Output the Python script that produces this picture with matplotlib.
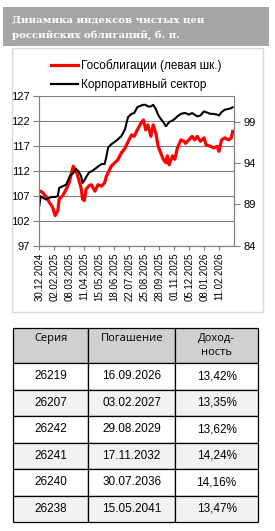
import numpy as np
import pandas as pd
import matplotlib
matplotlib.use('Agg')
import matplotlib.pyplot as plt
from matplotlib.patches import Rectangle
from matplotlib.lines import Line2D

plt.rcParams['font.family'] = ['Liberation Sans', 'DejaVu Sans']

# Индексы чистых цен (чтение с графика)
dates = ['2024-12-30', '2025-01-02', '2025-01-07', '2025-01-14', '2025-01-22', '2025-01-29',
         '2025-02-04', '2025-02-10', '2025-02-13', '2025-02-21', '2025-03-01', '2025-03-08',
         '2025-03-12', '2025-03-17', '2025-03-23', '2025-03-29', '2025-04-04', '2025-04-07',
         '2025-04-11', '2025-04-15', '2025-04-22', '2025-04-27', '2025-05-05', '2025-05-12',
         '2025-05-20', '2025-05-27', '2025-05-31', '2025-06-04', '2025-06-11', '2025-06-19',
         '2025-06-26', '2025-07-04', '2025-07-12', '2025-07-19', '2025-07-27', '2025-08-02',
         '2025-08-09', '2025-08-17', '2025-08-23', '2025-08-28', '2025-09-02', '2025-09-09',
         '2025-09-14', '2025-09-20', '2025-09-25', '2025-10-01', '2025-10-07', '2025-10-13',
         '2025-10-16', '2025-10-20', '2025-10-28', '2025-11-02', '2025-11-08', '2025-11-16',
         '2025-11-23', '2025-11-26', '2025-12-04', '2025-12-11', '2025-12-17', '2025-12-23',
         '2025-12-30', '2026-01-07', '2026-01-12', '2026-01-22', '2026-01-29', '2026-02-06',
         '2026-02-10', '2026-02-16', '2026-02-23', '2026-03-04', '2026-03-10', '2026-03-13']

gov = [107.8, 107.9, 107.6, 106.8, 105.6, 104.7,
       103.0, 104.0, 106.3, 107.0, 108.3, 109.7,
       111.3, 112.9, 112.1, 110.4, 108.4, 106.3,
       106.0, 108.3, 109.0, 109.2, 107.9, 109.2,
       108.9, 109.6, 110.9, 111.6, 112.9, 113.6,
       114.2, 115.6, 116.5, 117.8, 119.2, 118.9,
       120.2, 121.5, 122.2, 120.2, 121.2, 118.9,
       121.2, 119.6, 117.0, 115.6, 114.3, 113.6,
       115.0, 113.2, 115.0, 114.3, 116.6, 118.2,
       117.9, 117.5, 118.2, 118.9, 118.2, 118.9,
       117.9, 118.6, 117.2, 116.9, 116.6, 116.9,
       115.9, 118.2, 118.6, 118.2, 118.6, 119.9]

corp = [88.8, 90.0, 89.8, 89.6, 89.8, 89.9,
        89.9, 90.0, 91.0, 91.2, 91.4, 92.3,
        92.6, 92.8, 93.3, 93.0, 92.4, 91.6,
        91.9, 92.3, 92.9, 93.0, 93.3, 93.6,
        93.9, 93.9, 94.8, 95.9, 96.3, 96.6,
        96.9, 97.3, 98.1, 99.6, 100.0, 100.1,
        100.8, 101.0, 101.1, 101.1, 100.9, 100.9,
        101.1, 100.6, 99.9, 99.4, 99.0, 98.5,
        98.7, 99.0, 99.2, 99.4, 99.7, 100.0,
        100.1, 100.1, 99.9, 100.1, 99.9, 99.7,
        99.8, 100.3, 100.2, 100.0, 100.0, 99.9,
        99.8, 100.2, 100.5, 100.6, 100.7, 100.8]

left_ticks = [97, 102, 107, 112, 117, 122, 127]
right_ticks = [84, 89, 94, 99]

# Таблица
col_labels = ['Серия\n ', 'Погашение\n ', 'Доход-\nность']
series = ['26219', '26207', '26242', '26241', '26240', '26238']
maturity = ['16.09.2026', '03.02.2027', '29.08.2029', '17.11.2032', '30.07.2036', '15.05.2041']
ytm = ['13,42%', '13,35%', '13,62%', '14,24%', '14,16%', '13,47%']

W, H = 275, 531
fig = plt.figure(figsize=(W / 100, H / 100), dpi=100)

def fx(px):
    return px / W

def fy(py):
    return 1 - py / H

# заголовок
fig.patches.append(Rectangle((fx(3), fy(46)), fx(266), 39 / H, transform=fig.transFigure,
                             facecolor='#a5a5a5', edgecolor='none'))
fig.text(fx(12), fy(20), 'Динамика индексов чистых цен', color='white', weight='bold',
         family='DejaVu Serif', fontsize=7.3, va='center')
fig.text(fx(12), fy(35.5), 'российских облигаций, б. п.', color='white', weight='bold',
         family='DejaVu Serif', fontsize=7.3, va='center')

# рамка графика
fig.patches.append(Rectangle((fx(11.7), fy(312)), fx(263 - 11.7), (312 - 48) / H,
                             transform=fig.transFigure, fill=False, edgecolor='#d9d9d9', lw=1))

x = pd.to_datetime(dates)
ax = fig.add_axes([fx(39.3), fy(245.5), fx(233.5 - 39.3), (245.5 - 96) / H])
ax2 = ax.twinx()

ax.plot(x, gov, color='#ff0000', lw=2.3, solid_joinstyle='round')
ax2.plot(x, corp, color='black', lw=1.5)

ax.set_ylim(97, 127)
ax.set_yticks(left_ticks)
ax2.set_ylim(84, 84 + 149 / 8.2)
ax2.set_yticks(right_ticks)

xticks = pd.date_range('2024-12-30', periods=13, freq='34D')
ax.set_xticks(xticks)
ax.set_xticklabels([d.strftime('%d.%m.%Y') for d in xticks], rotation=90)
ax.set_xlim(pd.Timestamp('2024-12-30'), pd.Timestamp('2026-03-15'))

grey = '#808080'
ax.yaxis.grid(True, color=grey, lw=0.8)
ax.set_axisbelow(True)
for a in (ax, ax2):
    a.spines['top'].set_visible(False)
    for s in ('left', 'right', 'bottom'):
        a.spines[s].set_color(grey)
        a.spines[s].set_linewidth(0.8)
ax.tick_params(axis='y', direction='out', length=4, color=grey, labelsize=8, pad=3)
ax2.tick_params(axis='y', direction='out', length=4, color=grey, labelsize=8, pad=3)
ax.tick_params(axis='x', direction='out', length=3, color=grey, labelsize=7, pad=2)

handles = [Line2D([], [], color='#ff0000', lw=2.3), Line2D([], [], color='black', lw=1.6)]
fig.legend(handles, ['Гособлигации (левая шк.)', 'Корпоративный сектор'],
           loc='upper left', bbox_to_anchor=(fx(51), fy(59)), frameon=False,
           fontsize=8.5, handlelength=2.3, handletextpad=0.2, borderpad=0,
           borderaxespad=0, labelspacing=0.55)

# таблица
tax = fig.add_axes([fx(13.3), fy(522), fx(258 - 13.3), (522 - 328) / H])
tax.axis('off')
rows = [list(r) for r in zip(series, maturity, ytm)]
tbl = tax.table(cellText=rows, colLabels=col_labels, cellLoc='center',
                colWidths=[75, 87, 83], bbox=[0, 0, 1, 1])
tbl.auto_set_font_size(False)
for (r, c), cell in tbl.get_celld().items():
    cell.set_edgecolor('black')
    cell.set_linewidth(0.9)
    if r == 0:
        cell.set_height(35)
        cell.set_facecolor('#d0d0d0')
        cell.get_text().set_fontsize(8)
        cell.get_text().set_family(['Open Sans', 'DejaVu Sans'])
        cell.get_text().set_linespacing(1.35)
    else:
        cell.set_height(26.4)
        cell.set_facecolor('white' if r % 2 == 1 else '#f2f2f2')
        cell.get_text().set_fontsize(8.5)

fig.savefig('out.png', dpi=100)
